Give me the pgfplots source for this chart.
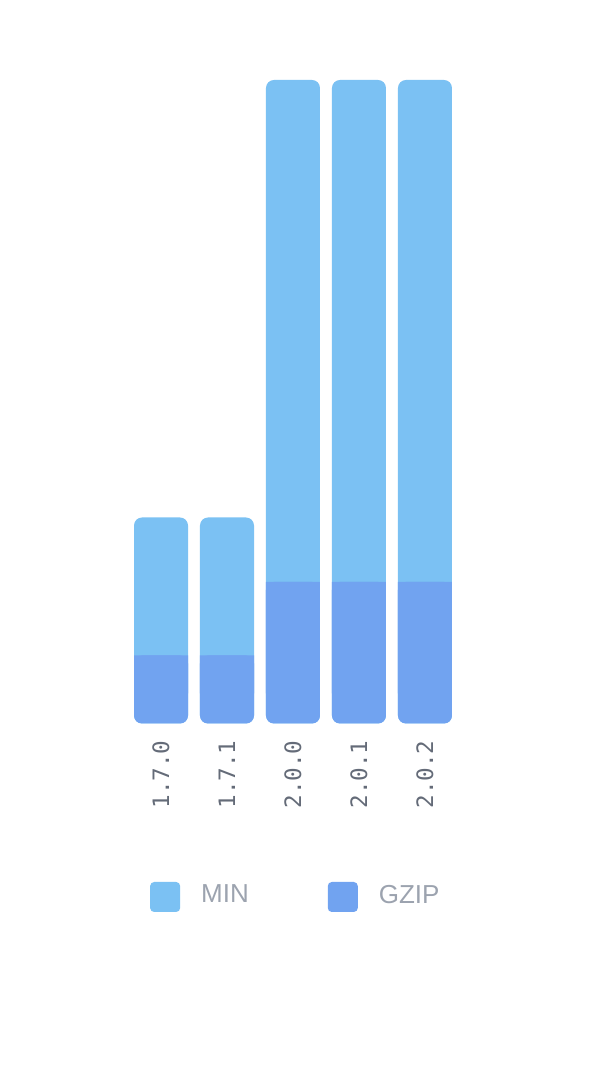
\documentclass[border=0pt]{standalone}
\usepackage{fontspec}
\setmainfont{Liberation Sans}
\newfontfamily\monofont{DejaVu Sans Mono}
\usepackage{pgfplots}
\pgfplotsset{compat=1.18}
\usepackage{pgfplotstable}

\definecolor{minblue}{HTML}{7BC1F3}
\definecolor{gzipblue}{HTML}{71A3F0}
\definecolor{tickgray}{HTML}{646B78}
\definecolor{legendgray}{HTML}{9CA3AF}

% bundle sizes in kB; gzbase+gztop = gzip (used only to square off the gzip tops)
\pgfplotstableread{
x ver   min   gzip  gzbase gztop
0 1.7.0 20.6  6.8   3      3.8
1 1.7.1 20.6  6.8   3      3.8
2 2.0.0 64.35 14.15 3      11.15
3 2.0.1 64.35 14.15 3      11.15
4 2.0.2 64.35 14.15 3      11.15
}\sizes

\pgfplotsset{sizeaxis/.style={
    scale only axis, width=165pt, height=321.75pt,
    at={(64pt,181.25pt)}, anchor=south west,
    xmin=-0.5, xmax=4.5, ymin=0, ymax=64.35,
    axis line style={draw=none}, ytick=\empty,
    xtick=data, major tick length=0pt,
    bar width=27pt, clip=false,
}}

\begin{document}
\begin{tikzpicture}
\path[use as bounding box] (0,0) rectangle (303pt,543pt);

\begin{axis}[sizeaxis,
    ybar, bar shift=0pt,
    xticklabels from table={\sizes}{ver},
    xticklabel style={rotate=90, anchor=east, inner sep=0pt, xshift=-8.25pt,
        font=\monofont\fontsize{11.3}{11.3}\selectfont, text=tickgray},
    legend columns=2,
    legend style={at={(0.5055,-0.2696)}, anchor=center, draw=none, fill=none,
        font=\fontsize{13}{13}\selectfont, text=legendgray,
        nodes={inner sep=0pt},
        /tikz/every odd column/.append style={column sep=10.5pt},
        /tikz/every even column/.append style={column sep=39.5pt}},
    legend image code/.code={\fill[#1, rounded corners=2pt] (0pt,-8.25pt) rectangle (15pt,6.75pt);},
]
\addplot[fill=minblue, draw=none, bar shift=0pt, rounded corners=4pt] table[x=x, y=min] {\sizes};
\addplot[fill=gzipblue, draw=none, bar shift=0pt, rounded corners=4pt] table[x=x, y=gzip] {\sizes};
\legend{MIN, GZIP}
\end{axis}

\begin{axis}[sizeaxis, hide axis, ybar stacked, bar shift=0pt]
\addplot[draw=none, fill=none, forget plot] table[x=x, y=gzbase] {\sizes};
\addplot[fill=gzipblue, draw=none, forget plot] table[x=x, y=gztop] {\sizes};
\end{axis}
\end{tikzpicture}
\end{document}
